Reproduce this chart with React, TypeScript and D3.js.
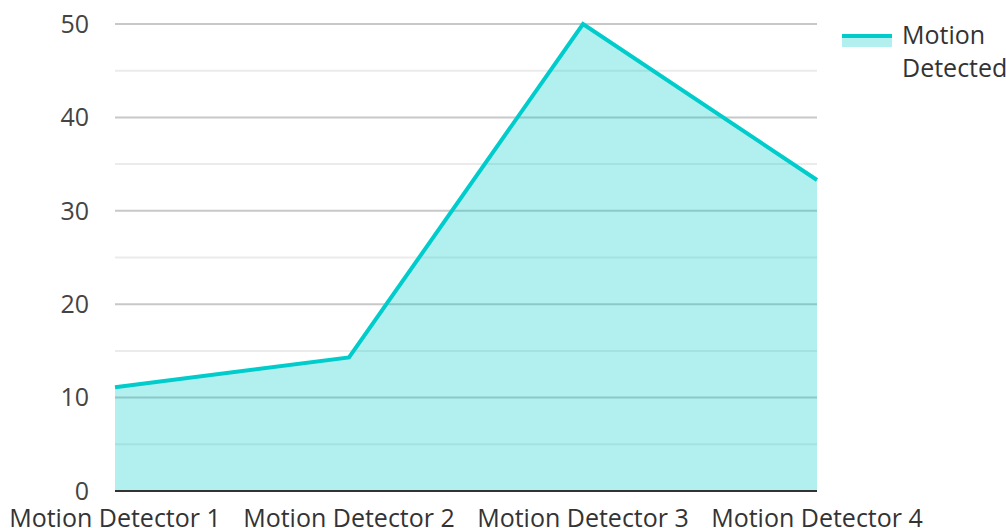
import React from "react";
import * as d3 from "d3";

const categories = ["Motion Detector 1", "Motion Detector 2", "Motion Detector 3", "Motion Detector 4"];
const values = [11.1, 14.3, 50, 33.3];
const yTicks = [0, 10, 20, 30, 40, 50];
const minorTicks = [5, 15, 25, 35, 45];
const seriesName = ["Motion", "Detected"];

const W = 1006, H = 528;
const left = 115, right = 817, top = 24, bottom = 491;
const FONT = "'Open Sans', sans-serif";

export default function App() {
  const x = d3.scalePoint<string>().domain(categories).range([left, right]);
  const y = d3.scaleLinear().domain([0, 50]).range([bottom, top]);
  const pts = categories.map((c, i) => [x(c)!, y(values[i])] as [number, number]);
  const line = d3.line()(pts)!;
  const area = d3.area<[number, number]>().x(d => d[0]).y0(bottom).y1(d => d[1])(pts)!;
  return (
    <svg width={W} height={H} style={{ position: "absolute", left: 0, top: 0 }}>
      {minorTicks.map(t => (
        <line key={"m" + t} x1={left} x2={right} y1={y(t)} y2={y(t)} stroke="#ebebeb" strokeWidth={2} />
      ))}
      {yTicks.filter(t => t > 0).map(t => (
        <line key={"g" + t} x1={left} x2={right} y1={y(t)} y2={y(t)} stroke="#c8c8c8" strokeWidth={2} />
      ))}
      <path d={area} fill="rgb(0,204,204)" fillOpacity={0.3} />
      <path d={line} fill="none" stroke="#00cccc" strokeWidth={4} strokeLinejoin="miter" />
      <line x1={left} x2={right} y1={bottom} y2={bottom} stroke="#333" strokeWidth={2} />
      {yTicks.map(t => (
        <text key={"t" + t} x={89} y={y(t)} dy="0.35em" textAnchor="end" fontFamily={FONT} fontSize={25} fill="#444">{t}</text>
      ))}
      {categories.map(c => (
        <text key={c} x={x(c)} y={527} textAnchor="middle" fontFamily={FONT} fontSize={25} fill="#333">{c}</text>
      ))}
      <rect x={842} y={34} width={50} height={13} fill="rgb(0,204,204)" fillOpacity={0.3} />
      <line x1={842} x2={892} y1={36} y2={36} stroke="#00cccc" strokeWidth={4} />
      {seriesName.map((s, i) => (
        <text key={s} x={902} y={44 + i * 33} fontFamily={FONT} fontSize={25} fill="#333">{s}</text>
      ))}
    </svg>
  );
}
